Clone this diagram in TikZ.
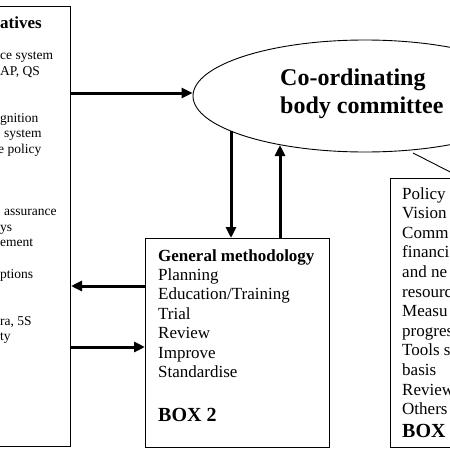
\documentclass[tikz,border=0pt]{standalone}
\usepackage{fontspec}
\setmainfont{Liberation Serif}
\usetikzlibrary{arrows.meta,shapes.geometric}
\begin{document}
\begin{tikzpicture}[x=1pt,y=-1pt,
  box/.style={draw, line width=1.2pt, inner sep=0pt},
  arr/.style={line width=3pt, -{Triangle[length=11pt,width=10pt]}},
  lt/.style={anchor=base west, inner sep=0pt, font=\fontsize{13.5}{15}\selectfont},
  bt/.style={anchor=base west, inner sep=0pt, font=\fontsize{17}{19.5}\selectfont},
  bth/.style={anchor=base west, inner sep=0pt, font=\fontsize{17}{19.5}\selectfont\bfseries},
  bigbox/.style={anchor=base west, inner sep=0pt, font=\fontsize{20}{22}\selectfont\bfseries},
  et/.style={anchor=base west, inner sep=0pt, font=\fontsize{24}{28}\selectfont\bfseries}]
\useasboundingbox (0,0) rectangle (450,450);
\clip (0,0) rectangle (450,450);
\fill[white] (0,0) rectangle (450,450);
% boxes
\node[box, anchor=north east, minimum width=91pt, minimum height=440pt] (initbox) at (71,6) {};
\node[box, anchor=north west, minimum width=184pt, minimum height=209pt] (box2) at (145,238) {};
\node[box, anchor=north west, minimum width=90pt, minimum height=269pt] (box3) at (390,178) {};
\node[draw, ellipse, line width=0.9pt, inner sep=0pt, minimum width=344pt, minimum height=112pt] (coord) at (365,96) {};
% ellipse text
\node[et] (e1) at (280,85) {Co-ordinating};
\node[et] (e2) at (280,113) {body committee};
% left box text
\node[bth] (l0) at (0,28) {atives};
\node[lt] (l1) at (0,59.5) {ce system};
\node[lt] (l2) at (0,75) {AP, QS};
\node[lt] (l3) at (0,122) {gnition};
\node[lt] (l4) at (4,137.5) {system};
\node[lt] (l5) at (-2,153) {e policy};
\node[lt] (l6) at (4,215) {assurance};
\node[lt] (l7) at (0,231) {ys};
\node[lt] (l8) at (0,246.5) {ement};
\node[lt] (l9) at (0,278) {ptions};
\node[lt] (l10) at (0,325) {ra, 5S};
\node[lt] (l11) at (0,340.5) {ty};
% box 2 text
\node[bth] (m0) at (158,261) {General methodology};
\node[bt] (m1) at (158,280) {Planning};
\node[bt] (m2) at (158,299.5) {Education/Training};
\node[bt] (m3) at (158,319) {Trial};
\node[bt] (m4) at (158,338.5) {Review};
\node[bt] (m5) at (158,358) {Improve};
\node[bt] (m6) at (158,377.5) {Standardise};
\node[bigbox] (m7) at (158,421) {BOX 2};
% box 3 text
\node[bt] (r1) at (402,199) {Policy};
\node[bt] (r2) at (402,218.6) {Vision};
\node[bt] (r3) at (402,238.2) {Comm};
\node[bt] (r4) at (402,257.8) {financi};
\node[bt] (r5) at (402,277.4) {and ne};
\node[bt] (r6) at (402,297) {resourc};
\node[bt] (r7) at (402,316.6) {Measu};
\node[bt] (r8) at (402,336.2) {progres};
\node[bt] (r9) at (402,355.8) {Tools s};
\node[bt] (r10) at (402,375.4) {basis};
\node[bt] (r11) at (402,395) {Review};
\node[bt] (r12) at (402,414.6) {Others};
\node[bigbox] (r13) at (402,437) {BOX};
% connectors
\coordinate (a1) at (231,131);
\coordinate (a2) at (280,145);
\coordinate (d1) at (413,153);
\draw[arr] (initbox.east |- 0,93) -- (coord.west |- 0,93);
\draw[arr] (a1) -- (box2.north -| a1);
\draw[arr] (box2.north -| a2) -- (a2);
\draw[arr] (box2.west |- 0,286) -- (initbox.east |- 0,286);
\draw[arr] (initbox.east |- 0,347) -- (box2.west |- 0,347);
\draw[line width=0.9pt] (d1) -- (box3.north -| 462,0);
\end{tikzpicture}
\end{document}
